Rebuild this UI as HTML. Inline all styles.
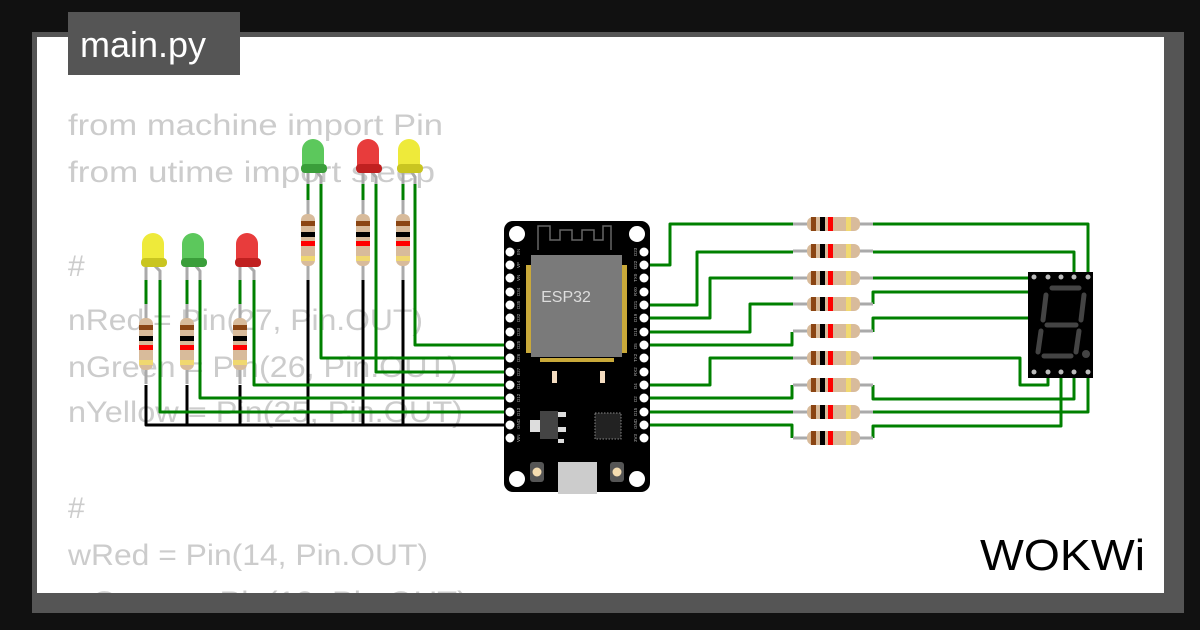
<!DOCTYPE html>
<html><head><meta charset="utf-8"><style>
html,body{margin:0;padding:0;background:#111;}
svg{display:block;}
</style></head><body>
<svg width="1200" height="630" viewBox="0 0 1200 630" xmlns="http://www.w3.org/2000/svg">
<defs>
<clipPath id="card"><rect x="37" y="37" width="1127" height="556"/></clipPath>
<g id="rh">
  <line x1="-30" y1="0" x2="50" y2="0" stroke="#aaa" stroke-width="3"/>
  <rect x="-16" y="-7" width="53" height="14" rx="6" fill="#d8bb9b"/>
  <rect x="-12" y="-7" width="5" height="14" fill="#8b4513"/>
  <rect x="-3" y="-7" width="5" height="14" fill="#000"/>
  <rect x="5" y="-7" width="5" height="14" fill="#f00"/>
  <rect x="23" y="-7" width="5" height="14" fill="#f0d870"/>
</g>
<g id="rv">
  <line x1="0" y1="-40" x2="0" y2="40" stroke="#aaa" stroke-width="3"/>
  <rect x="-7" y="-26" width="14" height="52" rx="6" fill="#d8bb9b"/>
  <rect x="-7" y="-19" width="14" height="5" fill="#8b4513"/>
  <rect x="-7" y="-8" width="14" height="5" fill="#000"/>
  <rect x="-7" y="1" width="14" height="5" fill="#f00"/>
  <rect x="-7" y="16" width="14" height="5" fill="#f0d870"/>
</g>
</defs>
<rect x="32" y="32" width="1152" height="581" fill="#555"/>
<rect x="37" y="37" width="1127" height="556" fill="#fff"/>
<rect x="68" y="12" width="172" height="63" fill="#555"/>
<text x="80" y="57" font-family="Liberation Sans, sans-serif" font-size="36" fill="#fff">main.py</text>

<g font-family="Liberation Sans, sans-serif" font-size="30" fill="#ccc" clip-path="url(#card)">
<text x="68" y="135" textLength="375" lengthAdjust="spacingAndGlyphs">from machine import Pin</text>
<text x="68" y="182" textLength="367" lengthAdjust="spacingAndGlyphs">from utime import sleep</text>
<text x="68" y="276">#</text>
<text x="68" y="330" textLength="355" lengthAdjust="spacingAndGlyphs">nRed = Pin(27, Pin.OUT)</text>
<text x="68" y="377" textLength="390" lengthAdjust="spacingAndGlyphs">nGreen = Pin(26, Pin.OUT)</text>
<text x="68" y="422" textLength="395" lengthAdjust="spacingAndGlyphs">nYellow = Pin(25, Pin.OUT)</text>
<text x="68" y="518">#</text>
<text x="68" y="565" textLength="360" lengthAdjust="spacingAndGlyphs">wRed = Pin(14, Pin.OUT)</text>
<text x="68" y="612" textLength="400" lengthAdjust="spacingAndGlyphs">wGreen = Pin(12, Pin.OUT)</text>
</g>

<g fill="none" stroke="#000" stroke-width="3" stroke-linejoin="round">
<polyline points="146,385 146,425 510,425"/>
<line x1="187" y1="385" x2="187" y2="425"/>
<line x1="240" y1="385" x2="240" y2="425"/>
<line x1="308" y1="280" x2="308" y2="425"/>
<line x1="363" y1="280" x2="363" y2="425"/>
<line x1="403" y1="280" x2="403" y2="425"/>
</g>
<g fill="none" stroke="#008000" stroke-width="3" stroke-linejoin="round">
<polyline points="160,278 160,412 510,412"/>
<polyline points="200,278 200,398 510,398"/>
<polyline points="254,278 254,385 510,385"/>
<polyline points="321,184 321,358 510,358"/>
<polyline points="376,184 376,372 510,372"/>
<polyline points="415,184 415,345 510,345"/>
<line x1="146" y1="280" x2="146" y2="305"/>
<line x1="187" y1="280" x2="187" y2="305"/>
<line x1="240" y1="280" x2="240" y2="305"/>
<line x1="308" y1="184" x2="308" y2="200"/>
<line x1="363" y1="184" x2="363" y2="200"/>
<line x1="403" y1="184" x2="403" y2="200"/>
</g>
<g stroke="#aaa" stroke-width="3" fill="none">
<line x1="146" y1="265" x2="146" y2="280"/><polyline points="154,265 160,271 160,280"/>
<line x1="187" y1="265" x2="187" y2="280"/><polyline points="195,265 200,271 200,280"/>
<line x1="240" y1="265" x2="240" y2="280"/><polyline points="248,265 254,271 254,280"/>
<line x1="308" y1="171" x2="308" y2="184"/><polyline points="316,171 321,177 321,184"/>
<line x1="363" y1="171" x2="363" y2="184"/><polyline points="371,171 376,177 376,184"/>
<line x1="403" y1="171" x2="403" y2="184"/><polyline points="411,171 415,177 415,184"/>
</g>
<use href="#rv" x="146" y="344"/>
<use href="#rv" x="187" y="344"/>
<use href="#rv" x="240" y="344"/>
<use href="#rv" x="308" y="240"/>
<use href="#rv" x="363" y="240"/>
<use href="#rv" x="403" y="240"/>
<g>
<path d="M142,262 L142,244 A11,11 0 0 1 164,244 L164,262 Z" fill="#eeea3a"/><rect x="141" y="258" width="26" height="9" rx="4" fill="#c9c520"/>
<path d="M182,262 L182,244 A11,11 0 0 1 204,244 L204,262 Z" fill="#5cc85c"/><rect x="181" y="258" width="26" height="9" rx="4" fill="#3a9e3a"/>
<path d="M236,262 L236,244 A11,11 0 0 1 258,244 L258,262 Z" fill="#e83c3c"/><rect x="235" y="258" width="26" height="9" rx="4" fill="#c02020"/>
<path d="M302,168 L302,150 A11,11 0 0 1 324,150 L324,168 Z" fill="#5cc85c"/><rect x="301" y="164" width="26" height="9" rx="4" fill="#3a9e3a"/>
<path d="M357,168 L357,150 A11,11 0 0 1 379,150 L379,168 Z" fill="#e83c3c"/><rect x="356" y="164" width="26" height="9" rx="4" fill="#c02020"/>
<path d="M398,168 L398,150 A11,11 0 0 1 420,150 L420,168 Z" fill="#eeea3a"/><rect x="397" y="164" width="26" height="9" rx="4" fill="#c9c520"/>
</g>

<g fill="none" stroke="#008000" stroke-width="3" stroke-linejoin="round">
<polyline points="645,265 670,265 670,224 793,224"/>
<polyline points="645,305 697,305 697,252 793,252"/>
<polyline points="645,318 710,318 710,278 793,278"/>
<polyline points="645,332 750,332 750,304 793,304"/>
<polyline points="645,345 792,345 792,332"/>
<polyline points="645,385 710,385 710,358 793,358"/>
<polyline points="645,398 792,398 792,385"/>
<polyline points="645,412 793,412"/>
<polyline points="645,425 792,425 792,438"/>
<polyline points="873,224 1088,224 1088,277"/>
<polyline points="873,252 1074,252 1074,277"/>
<polyline points="873,278 1034,278"/>
<polyline points="873,304 873,292 1048,292 1048,277"/>
<polyline points="873,332 873,318 1033,318 1033,372"/>
<polyline points="873,358 1020,358 1020,385 1048,385 1048,372"/>
<polyline points="873,385 873,399 1074,399 1074,372"/>
<polyline points="873,412 1088,412 1088,372"/>
<polyline points="873,438 873,426 1061,426 1061,372"/>
</g>
<use href="#rh" x="823" y="224"/>
<use href="#rh" x="823" y="251"/>
<use href="#rh" x="823" y="278"/>
<use href="#rh" x="823" y="304"/>
<use href="#rh" x="823" y="331"/>
<use href="#rh" x="823" y="358"/>
<use href="#rh" x="823" y="385"/>
<use href="#rh" x="823" y="412"/>
<use href="#rh" x="823" y="438"/>

<rect x="1028" y="272" width="65" height="106" fill="#000"/>
<g fill="#bbb"><circle cx="1034" cy="277" r="2.5"/><circle cx="1048" cy="277" r="2.5"/><circle cx="1061" cy="277" r="2.5"/><circle cx="1074" cy="277" r="2.5"/><circle cx="1088" cy="277" r="2.5"/>
<circle cx="1034" cy="372" r="2.5"/><circle cx="1048" cy="372" r="2.5"/><circle cx="1061" cy="372" r="2.5"/><circle cx="1074" cy="372" r="2.5"/><circle cx="1088" cy="372" r="2.5"/></g>
<g stroke="#444" stroke-width="5" stroke-linecap="round" fill="none">
<line x1="1052" y1="288" x2="1079" y2="288"/>
<line x1="1046" y1="295" x2="1043" y2="320"/>
<line x1="1084" y1="295" x2="1081" y2="320"/>
<line x1="1047" y1="325" x2="1076" y2="325"/>
<line x1="1041" y1="331" x2="1038" y2="352"/>
<line x1="1079" y1="331" x2="1076" y2="352"/>
<line x1="1044" y1="356" x2="1071" y2="356"/>
</g>
<circle cx="1086" cy="354" r="4" fill="#444"/>

<rect x="504" y="221" width="146" height="271" rx="9" fill="#000"/>
<g fill="#fff">
<circle cx="517" cy="234" r="8"/><circle cx="637" cy="234" r="8"/><circle cx="517" cy="479" r="8"/><circle cx="637" cy="479" r="8"/>
</g>
<path d="M538,250 V226 H550 V240 H560 V230 H572 V240 H582 V230 H594 V240 H603 V226 H611 V250" fill="none" stroke="#666" stroke-width="1.5"/>
<g fill="#c9a93a">
<rect x="526" y="265" width="5" height="88"/><rect x="622" y="265" width="5" height="88"/>
<rect x="540" y="358" width="74" height="4"/>
</g>
<rect x="531" y="255" width="91" height="102" fill="#7a7a7a"/>
<text x="566" y="302" font-family="Liberation Sans, sans-serif" font-size="16" fill="#ddd" text-anchor="middle">ESP32</text>
<rect x="552" y="371" width="5" height="12" fill="#f4dcc0"/><rect x="600" y="371" width="5" height="12" fill="#f4dcc0"/>
<rect x="540" y="411" width="18" height="28" fill="#444"/><rect x="530" y="420" width="10" height="12" fill="#ddd"/>
<rect x="558" y="412" width="8" height="5" fill="#ddd"/><rect x="558" y="427" width="8" height="5" fill="#ddd"/><rect x="558" y="439" width="6" height="4" fill="#ddd"/>
<rect x="595" y="413" width="26" height="26" fill="#222" stroke="#888" stroke-dasharray="1.5,1.5"/>
<rect x="558" y="462" width="39" height="32" fill="#ccc"/>
<rect x="530" y="462" width="14" height="20" rx="3" fill="#555"/><circle cx="537" cy="472" r="4.5" fill="#f4dcb0"/>
<rect x="610" y="462" width="14" height="20" rx="3" fill="#555"/><circle cx="617" cy="472" r="4.5" fill="#f4dcb0"/>
<g fill="#fff">
<circle cx="510" cy="252" r="4.5"/><circle cx="510" cy="265" r="4.5"/><circle cx="510" cy="278" r="4.5"/><circle cx="510" cy="292" r="4.5"/><circle cx="510" cy="305" r="4.5"/><circle cx="510" cy="318" r="4.5"/><circle cx="510" cy="332" r="4.5"/><circle cx="510" cy="345" r="4.5"/><circle cx="510" cy="358" r="4.5"/><circle cx="510" cy="372" r="4.5"/><circle cx="510" cy="385" r="4.5"/><circle cx="510" cy="398" r="4.5"/><circle cx="510" cy="412" r="4.5"/><circle cx="510" cy="425" r="4.5"/><circle cx="510" cy="438" r="4.5"/>
<circle cx="644" cy="252" r="4.5"/><circle cx="644" cy="265" r="4.5"/><circle cx="644" cy="278" r="4.5"/><circle cx="644" cy="292" r="4.5"/><circle cx="644" cy="305" r="4.5"/><circle cx="644" cy="318" r="4.5"/><circle cx="644" cy="332" r="4.5"/><circle cx="644" cy="345" r="4.5"/><circle cx="644" cy="358" r="4.5"/><circle cx="644" cy="372" r="4.5"/><circle cx="644" cy="385" r="4.5"/><circle cx="644" cy="398" r="4.5"/><circle cx="644" cy="412" r="4.5"/><circle cx="644" cy="425" r="4.5"/><circle cx="644" cy="438" r="4.5"/>
</g>
<g font-family="Liberation Sans, sans-serif" font-size="4.5" fill="#aaa">
<text transform="translate(520,255) rotate(-90)">EN</text><text transform="translate(520,268) rotate(-90)">VP</text><text transform="translate(520,281) rotate(-90)">VN</text><text transform="translate(520,296) rotate(-90)">D34</text><text transform="translate(520,309) rotate(-90)">D35</text><text transform="translate(520,322) rotate(-90)">D32</text><text transform="translate(520,336) rotate(-90)">D33</text><text transform="translate(520,349) rotate(-90)">D25</text><text transform="translate(520,362) rotate(-90)">D26</text><text transform="translate(520,376) rotate(-90)">D27</text><text transform="translate(520,389) rotate(-90)">D14</text><text transform="translate(520,402) rotate(-90)">D12</text><text transform="translate(520,416) rotate(-90)">D13</text><text transform="translate(520,429) rotate(-90)">GND</text><text transform="translate(520,442) rotate(-90)">VIN</text>
<text transform="translate(637,256) rotate(-90)">D23</text><text transform="translate(637,269) rotate(-90)">D22</text><text transform="translate(637,282) rotate(-90)">TX0</text><text transform="translate(637,296) rotate(-90)">RX0</text><text transform="translate(637,309) rotate(-90)">D21</text><text transform="translate(637,322) rotate(-90)">D19</text><text transform="translate(637,336) rotate(-90)">D18</text><text transform="translate(637,349) rotate(-90)">D5</text><text transform="translate(637,362) rotate(-90)">TX2</text><text transform="translate(637,376) rotate(-90)">RX2</text><text transform="translate(637,389) rotate(-90)">D4</text><text transform="translate(637,402) rotate(-90)">D2</text><text transform="translate(637,416) rotate(-90)">D15</text><text transform="translate(637,429) rotate(-90)">GND</text><text transform="translate(637,442) rotate(-90)">3V3</text>
</g>

<text x="980" y="570" font-family="Liberation Sans, sans-serif" font-size="44" fill="#000" textLength="165" lengthAdjust="spacingAndGlyphs">WOKWi</text>
</svg>
</body></html>
